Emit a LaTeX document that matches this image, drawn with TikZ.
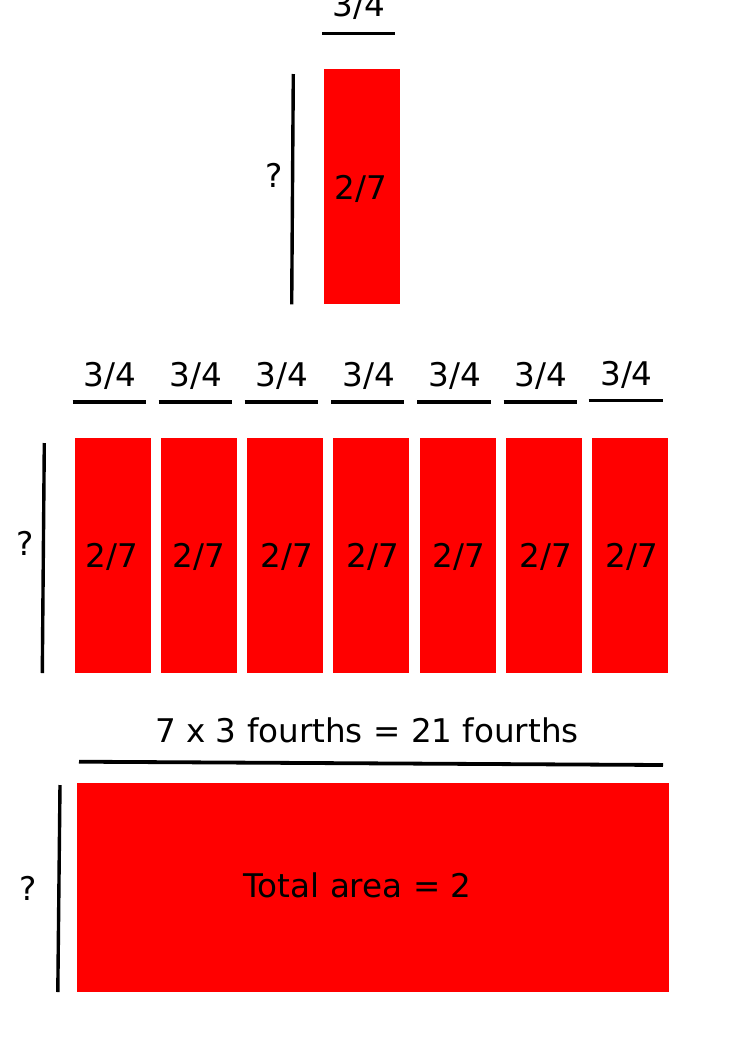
\documentclass[tikz,border=0pt]{standalone}
\usepackage{fontspec}
\setmainfont{DejaVu Sans}
\begin{document}
\begin{tikzpicture}[x=1pt,y=-1pt,
  piece/.style={rectangle,fill=red,draw=none,inner sep=0pt,text depth=0pt,
    font=\fontsize{32.6}{38}\selectfont},
  lbl/.style={anchor=base,inner sep=0pt,font=\fontsize{32.6}{38}\selectfont},
  barline/.style={line width=3.6pt,black}]
\useasboundingbox (0,0) rectangle (745,1053);
% ---- top: single piece
\node[lbl] (t34) at (359,16) {3/4};
\draw[barline] (322,33.3) -- (395,33.3);
\node[piece,minimum width=76pt,minimum height=235pt] (trect) at (362,186.5) {};
\node[lbl] (t27) at (361,199) {2/7};
\node[lbl] (tq) at (274.5,187) {?};
\draw[barline,line width=3.4pt] (293.3,74) -- (291.7,304.3);
% ---- middle: seven pieces
\foreach \i/\cx/\tx/\lx/\lb/\la/\lc/\ly in {
  1/112.5/112.2/110/386.5/72.7/146/402,
  2/198.7/199.2/196/386.5/158.7/232/402,
  3/285/287/282/386.5/244.7/318.3/402,
  4/371/373/369/386.5/331/404/402,
  5/457.5/459/454.7/386.5/417.3/490.7/402,
  6/544/545.8/540.8/386.5/503.7/577/402,
  7/630.2/632/626.5/385/588.7/662.7/400.3}{
  \node[lbl] (m34\i) at (\lx,\lb) {3/4};
  \draw[barline] (\la,\ly) -- (\lc,\ly);
  \node[piece,minimum width=76pt,minimum height=235pt] (mrect\i) at (\cx,555.2) {};
  \node[lbl] (m27\i) at (\tx,567.7) {2/7};
}
\node[lbl] (mq) at (25,555) {?};
\draw[barline,line width=3.4pt] (44.3,443) -- (42.3,673);
% ---- bottom: total
\node[lbl] (btop) at (367,742) {7 x 3 fourths = 21 fourths};
\draw[barline,line width=3.8pt] (79,761.7) -- (663,765);
\node[piece,minimum width=592pt,minimum height=209pt] (brect) at (373,887.5) {};
\node[lbl] (btxt) at (357.5,897) {Total area = 2};
\node[lbl] (bq) at (28.5,900) {?};
\draw[barline,line width=3.4pt] (60,785) -- (57.8,992);
\end{tikzpicture}
\end{document}
